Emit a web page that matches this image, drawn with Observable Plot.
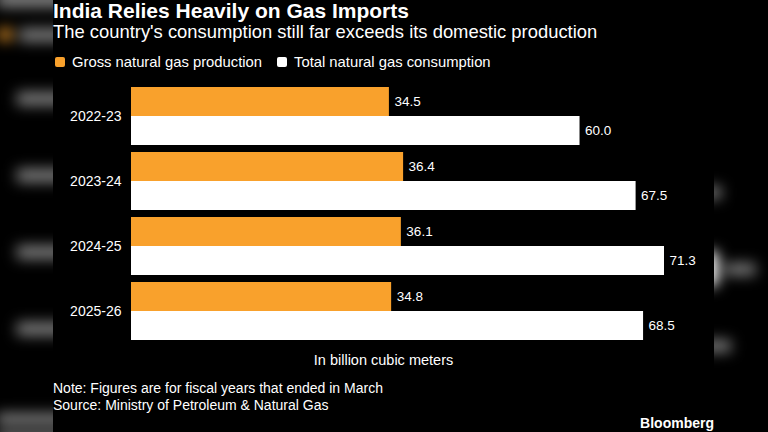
<!DOCTYPE html>
<html>
<head>
<meta charset="utf-8">
<script src="https://cdn.jsdelivr.net/npm/d3@7"></script>
<script src="https://cdn.jsdelivr.net/npm/@observablehq/plot@0.6"></script>
<style>
  html, body { margin: 0; padding: 0; background: #000; }
  body { width: 768px; height: 432px; overflow: hidden; position: relative; }
  .layer { position: absolute; left: 0; top: 0; width: 768px; height: 432px; }
  .ghost { transform-origin: 365px 215px; transform: scale(1.18); filter: blur(6px); }
  .ghost div { position: absolute; }
  .panel { position: absolute; left: 53px; top: 0; width: 661px; height: 432px; background: #000; }
  .txt { position: absolute; white-space: nowrap; color: #fff; font-family: "Liberation Sans", Arial, sans-serif; }
  .legend { position: absolute; display: flex; align-items: center; }
  .legend .item { display: flex; align-items: center; margin-right: 15px; }
  .legend .sw { width: 10px; height: 10px; border-radius: 2px; margin-right: 7px; }
  .legend span { color: #fff; font-family: "Liberation Sans", Arial, sans-serif; font-size: 14.8px; white-space: nowrap; }
</style>
</head>
<body>
<script>
// Fiscal years (ending in March) and the two gas series, in billion cubic meters
const years = ["2022-23", "2023-24", "2024-25", "2025-26"];
const seriesNames = ["Gross natural gas production", "Total natural gas consumption"];
const production = [34.5, 36.4, 36.1, 34.8];
const consumption = [60.0, 67.5, 71.3, 68.5];
const seriesColors = ["#f9a12c", "#ffffff"];

const titleText = "India Relies Heavily on Gas Imports";
const subtitleText = "The country's consumption still far exceeds its domestic production";
const unitText = "In billion cubic meters";
const noteText = "Note: Figures are for fiscal years that ended in March";
const sourceText = "Source: Ministry of Petroleum & Natural Gas";
const brandText = "Bloomberg";

const FONT = '"Liberation Sans", Arial, sans-serif';

const rows = years.flatMap((year, i) => [
  {year, series: seriesNames[0], value: production[i]},
  {year, series: seriesNames[1], value: consumption[i]}
]);

// Place a line of text so that its baseline sits at the given y
function addText(root, text, {x, baseline, size, weight = 400, align = "left", color = "#fff"}) {
  const el = document.createElement("div");
  el.className = "txt";
  el.textContent = text;
  el.style.fontSize = size + "px";
  el.style.lineHeight = size + "px";
  el.style.fontWeight = weight;
  el.style.color = color;
  el.style.top = (baseline - 0.8465 * size) + "px";
  if (align === "left") el.style.left = x + "px";
  else if (align === "right") el.style.right = (768 - x) + "px";
  else { el.style.left = x + "px"; el.style.transform = "translateX(-50%)"; }
  root.appendChild(el);
}

const front = document.createElement("div");
front.className = "layer";
document.body.appendChild(front);

const panel = document.createElement("div");
panel.className = "panel";
front.appendChild(panel);

addText(front, titleText, {x: 53, baseline: 18, size: 21, weight: 700});
addText(front, subtitleText, {x: 53, baseline: 38.5, size: 18.4});

// Legend
const legend = document.createElement("div");
legend.className = "legend";
legend.style.left = "55px";
legend.style.top = "53px";
legend.style.height = "18px";
seriesNames.forEach((name, i) => {
  const item = document.createElement("div");
  item.className = "item";
  const sw = document.createElement("div");
  sw.className = "sw";
  sw.style.background = seriesColors[i];
  const label = document.createElement("span");
  label.textContent = name;
  item.appendChild(sw);
  item.appendChild(label);
  legend.appendChild(item);
});
front.appendChild(legend);

// Grouped horizontal bars: one facet row per fiscal year
const chart = Plot.plot({
  width: 768,
  height: 270,
  marginTop: 7,
  marginBottom: 10,
  marginLeft: 131,
  marginRight: 104,
  style: {background: "transparent", color: "#fff", fontFamily: FONT, fontSize: "14px", overflow: "visible"},
  facet: {data: rows, y: "year"},
  x: {domain: [0, d3.max(consumption)], axis: null},
  y: {domain: seriesNames, axis: null, padding: 0},
  fy: {domain: years, paddingInner: 7 / 65, paddingOuter: 0, axis: "left", tickSize: 0, tickPadding: 10, label: null},
  color: {domain: seriesNames, range: seriesColors},
  marks: [
    Plot.barX(rows, {y: "series", x: "value", fill: "series"}),
    Plot.text(rows, {
      y: "series", x: "value", text: d => d.value.toFixed(1),
      textAnchor: "start", dx: 5, fill: "#fff", fontSize: 13.5
    })
  ]
});
chart.style.position = "absolute";
chart.style.left = "0px";
chart.style.top = "80px";
front.appendChild(chart);

addText(front, unitText, {x: 383.5, baseline: 365, size: 14.5, align: "center"});
addText(front, noteText, {x: 53, baseline: 392.5, size: 14});
addText(front, sourceText, {x: 53, baseline: 409.5, size: 14});
addText(front, brandText, {x: 714, baseline: 427.5, size: 14, weight: 700, align: "right"});

// Soft enlarged backdrop behind the panel: blurred blocks that follow the
// drawn bars, swatches and lines of text
const back = document.createElement("div");
back.className = "layer ghost";
back.setAttribute("aria-hidden", "true");
document.body.insertBefore(back, front);

function addBlock(r, color) {
  const d = document.createElement("div");
  d.style.left = r.left + "px";
  d.style.top = r.top + "px";
  d.style.width = r.width + "px";
  d.style.height = r.height + "px";
  d.style.background = color;
  back.appendChild(d);
}
front.querySelectorAll("svg rect").forEach(el => {
  addBlock(el.getBoundingClientRect(), el.getAttribute("fill") || getComputedStyle(el).fill);
});
front.querySelectorAll(".legend .sw").forEach(el => {
  addBlock(el.getBoundingClientRect(), el.style.background);
});
const textEls = [...front.querySelectorAll(".txt, .legend span, svg text")];
textEls.forEach(el => {
  let r;
  if (el instanceof SVGElement) r = el.getBoundingClientRect();
  else { const range = document.createRange(); range.selectNodeContents(el); r = range.getBoundingClientRect(); }
  const h = r.height * 0.66;
  addBlock({left: r.left, top: r.top + r.height * 0.2, width: r.width, height: h}, "rgba(255,255,255,0.5)");
});
</script>
</body>
</html>
